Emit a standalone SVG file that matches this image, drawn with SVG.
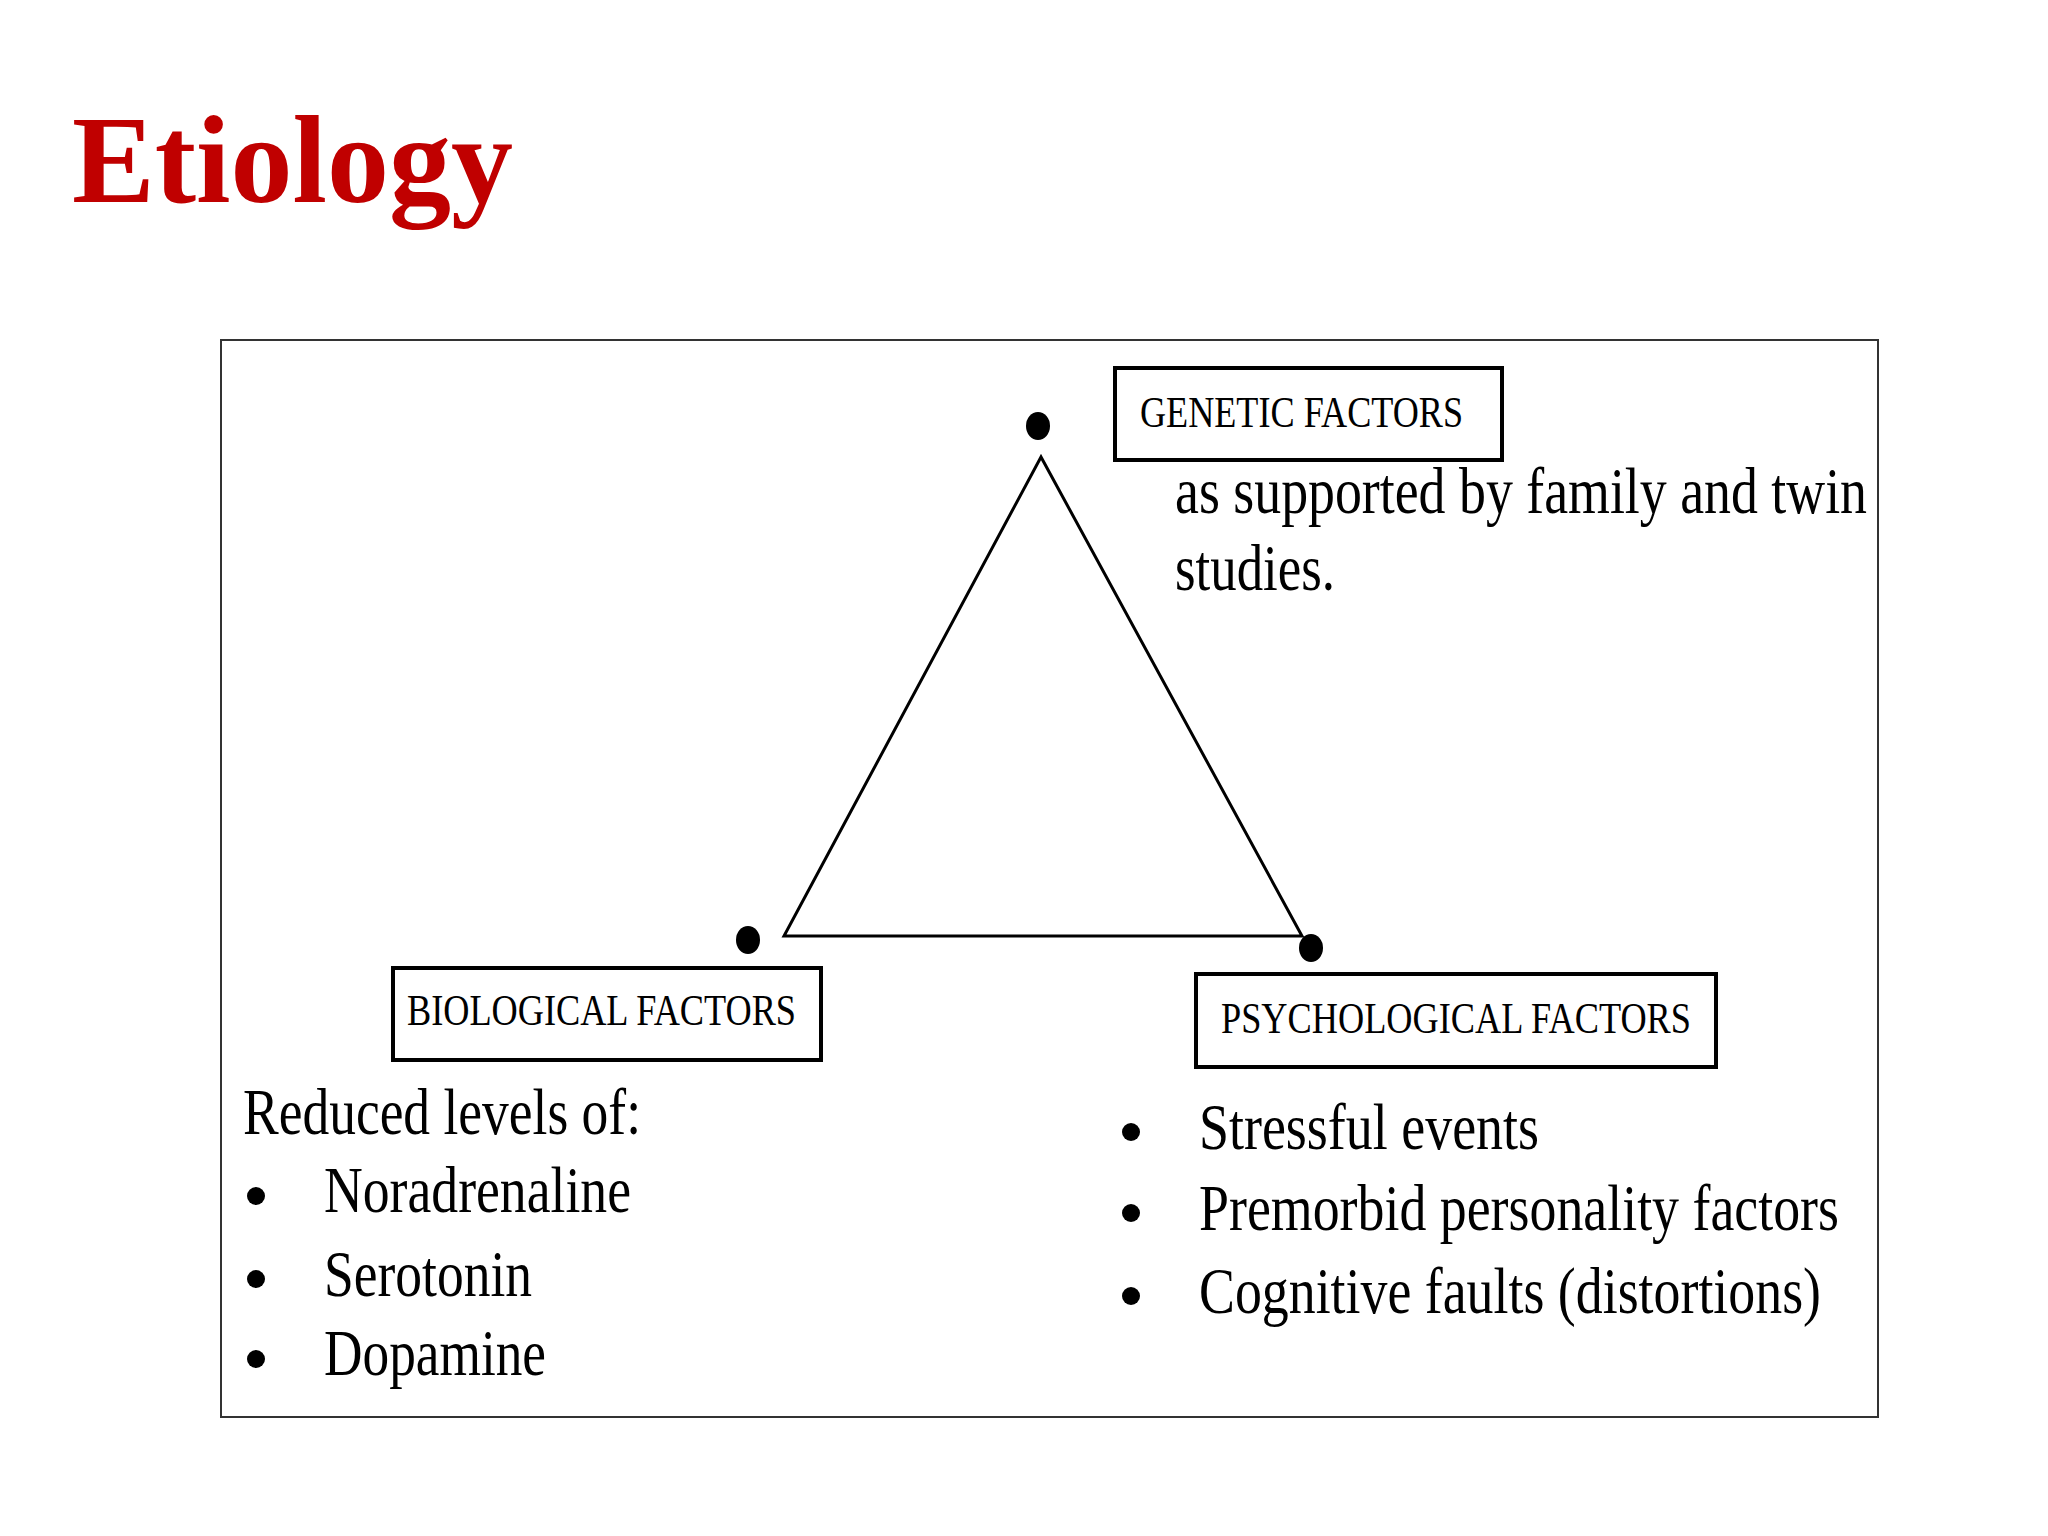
<svg xmlns="http://www.w3.org/2000/svg" width="2048" height="1536" viewBox="0 0 2048 1536">
<style>
.t{font-family:"Liberation Serif",serif;fill:#000}
.lbl{font-size:44px}
.body{font-size:66px}
.box{fill:none;stroke:#000;stroke-width:4}
</style>
<rect width="2048" height="1536" fill="#fff"/>
<text x="72" y="202" font-family="Liberation Serif,serif" font-weight="bold" font-size="124" fill="#C00000">Etiology</text>
<rect x="221" y="340" width="1657" height="1077" fill="none" stroke="#333" stroke-width="2"/>
<g id="connectors">
<polygon points="1041,457 784,936 1302,936" fill="none" stroke="#000" stroke-width="3"/>
</g>
<g id="dots" fill="#000">
<ellipse cx="1038" cy="426" rx="12" ry="14"/>
<ellipse cx="748" cy="940" rx="12" ry="14"/>
<ellipse cx="1311" cy="948" rx="12" ry="14"/>
</g>
<g id="genetic">
<rect class="box" x="1115" y="368" width="387" height="92"/>
<text class="t lbl" x="1140" y="427" textLength="323" lengthAdjust="spacingAndGlyphs">GENETIC FACTORS</text>
<text class="t body" x="1175" y="513" textLength="692" lengthAdjust="spacingAndGlyphs">as supported by family and twin</text>
<text class="t body" x="1175" y="590" textLength="160" lengthAdjust="spacingAndGlyphs">studies.</text>
</g>
<g id="biological">
<rect class="box" x="393" y="968" width="428" height="92"/>
<text class="t lbl" x="407" y="1025" textLength="389" lengthAdjust="spacingAndGlyphs">BIOLOGICAL FACTORS</text>
<text class="t body" x="243" y="1134" textLength="398" lengthAdjust="spacingAndGlyphs">Reduced levels of:</text>
<circle cx="256" cy="1196" r="9"/><text class="t body" x="324" y="1212" textLength="307" lengthAdjust="spacingAndGlyphs">Noradrenaline</text>
<circle cx="256" cy="1279" r="9"/><text class="t body" x="324" y="1296" textLength="208" lengthAdjust="spacingAndGlyphs">Serotonin</text>
<circle cx="256" cy="1359" r="9"/><text class="t body" x="324" y="1375" textLength="222" lengthAdjust="spacingAndGlyphs">Dopamine</text>
</g>
<g id="psychological">
<rect class="box" x="1196" y="974" width="520" height="93"/>
<text class="t lbl" x="1221" y="1033" textLength="470" lengthAdjust="spacingAndGlyphs">PSYCHOLOGICAL FACTORS</text>
<circle cx="1131" cy="1132" r="9"/><text class="t body" x="1199" y="1149" textLength="340" lengthAdjust="spacingAndGlyphs">Stressful events</text>
<circle cx="1131" cy="1213" r="9"/><text class="t body" x="1199" y="1230" textLength="640" lengthAdjust="spacingAndGlyphs">Premorbid personality factors</text>
<circle cx="1131" cy="1296" r="9"/><text class="t body" x="1199" y="1313" textLength="622" lengthAdjust="spacingAndGlyphs">Cognitive faults (distortions)</text>
</g>
</svg>
